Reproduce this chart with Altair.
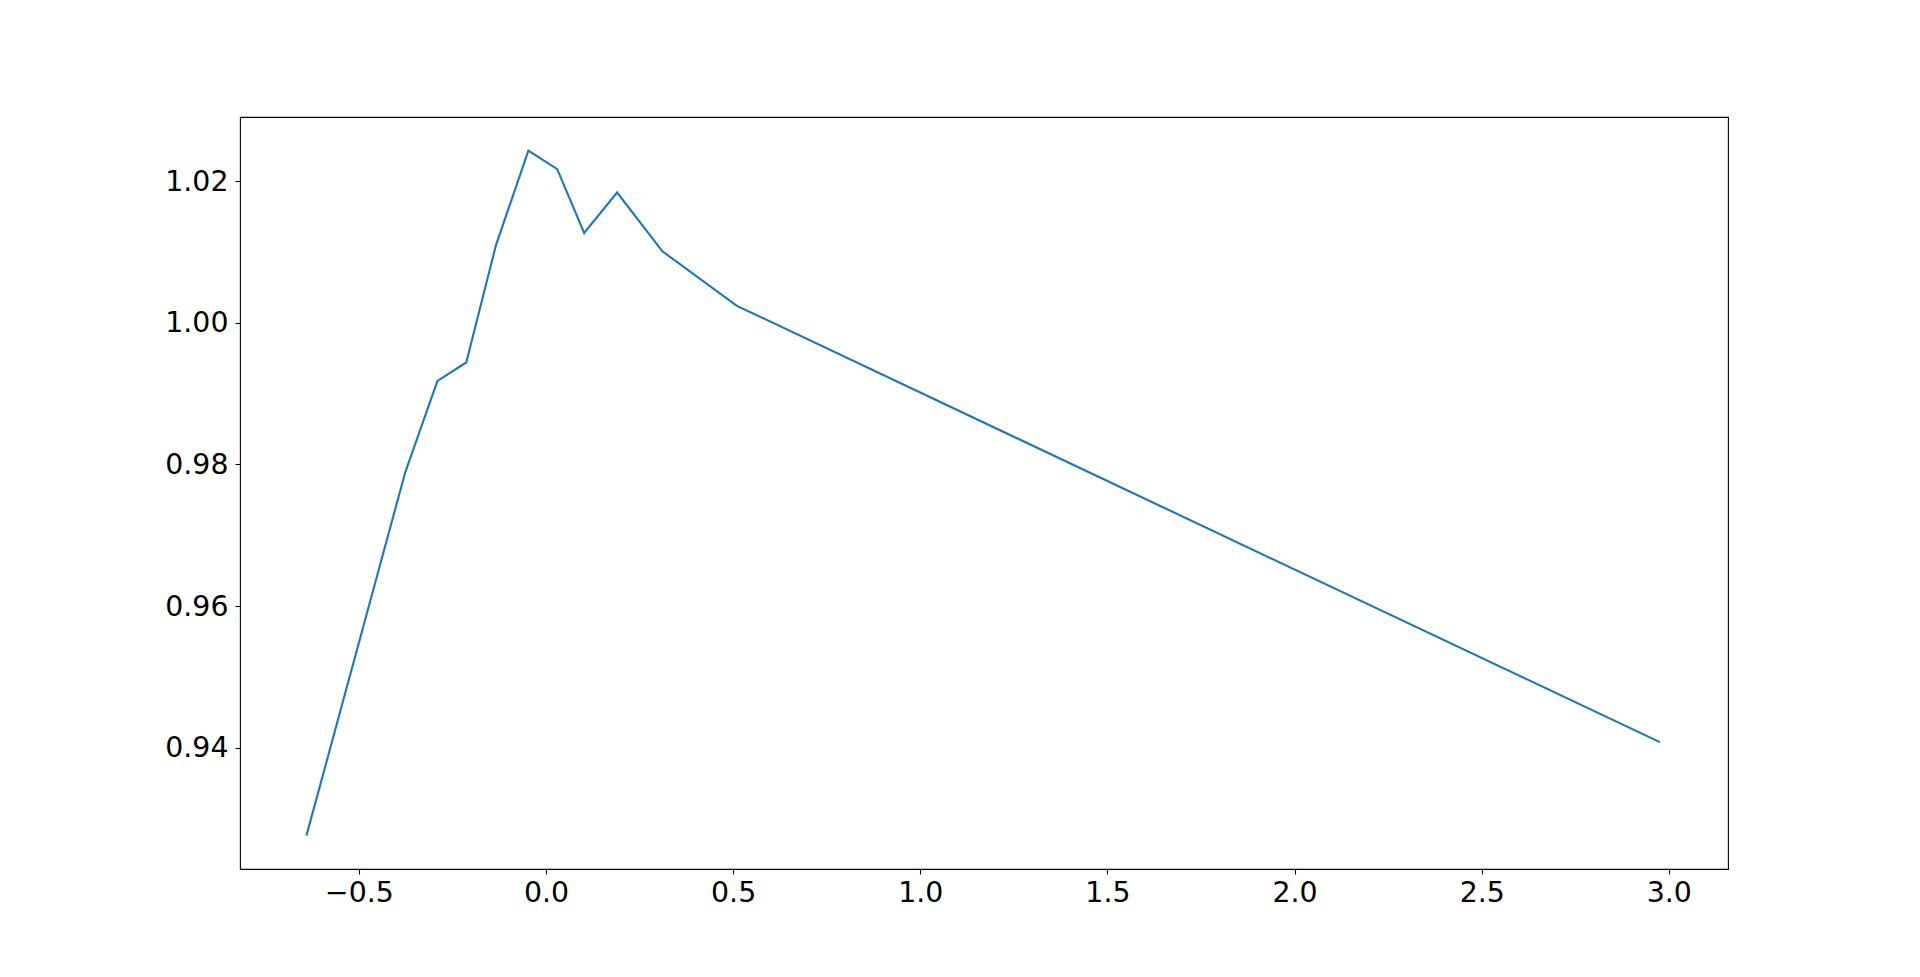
import altair as alt
import pandas as pd

x_vals = [-0.640, -0.376, -0.290, -0.213, -0.134, -0.047, 0.030, 0.102, 0.190, 0.311, 0.510, 2.976]
y_vals = [0.9276, 0.9789, 0.9918, 0.9944, 1.0109, 1.0243, 1.0217, 1.0127, 1.0184, 1.0101, 1.0024, 0.9408]
x_ticks = [-0.5, 0.0, 0.5, 1.0, 1.5, 2.0, 2.5, 3.0]
y_ticks = [0.94, 0.96, 0.98, 1.00, 1.02]

df = pd.DataFrame({"x": x_vals, "y": y_vals})

font = "DejaVu Sans"
fs = 28.4

chart = alt.Chart(df).mark_line(color="#1f77b4", strokeWidth=2.1, clip=True).encode(
    x=alt.X("x:Q",
            scale=alt.Scale(domain=[-0.8175, 3.158], nice=False, zero=False),
            axis=alt.Axis(values=x_ticks, format=".1f", title=None, grid=False,
                          labelFontSize=fs, labelFont=font, labelColor="black",
                          tickColor="black", tickSize=5, tickWidth=1.1,
                          domain=False, labelPadding=5, labelFlush=False)),
    y=alt.Y("y:Q",
            scale=alt.Scale(domain=[0.92289, 1.02906], nice=False, zero=False),
            axis=alt.Axis(values=y_ticks, format=".2f", title=None, grid=False,
                          labelFontSize=fs, labelFont=font, labelColor="black",
                          tickColor="black", tickSize=5, tickWidth=1.1,
                          domain=False, labelPadding=7, labelFlush=False)),
).properties(
    width=1488,
    height=752,
    autosize=alt.AutoSizeParams(type="none"),
    padding={"left": 232, "top": 109, "right": 176, "bottom": 92},
).configure(
    background="white"
).configure_view(
    stroke="black", strokeWidth=1.1
)

chart.save("out.html", embed_options={"renderer": "svg", "actions": False})
